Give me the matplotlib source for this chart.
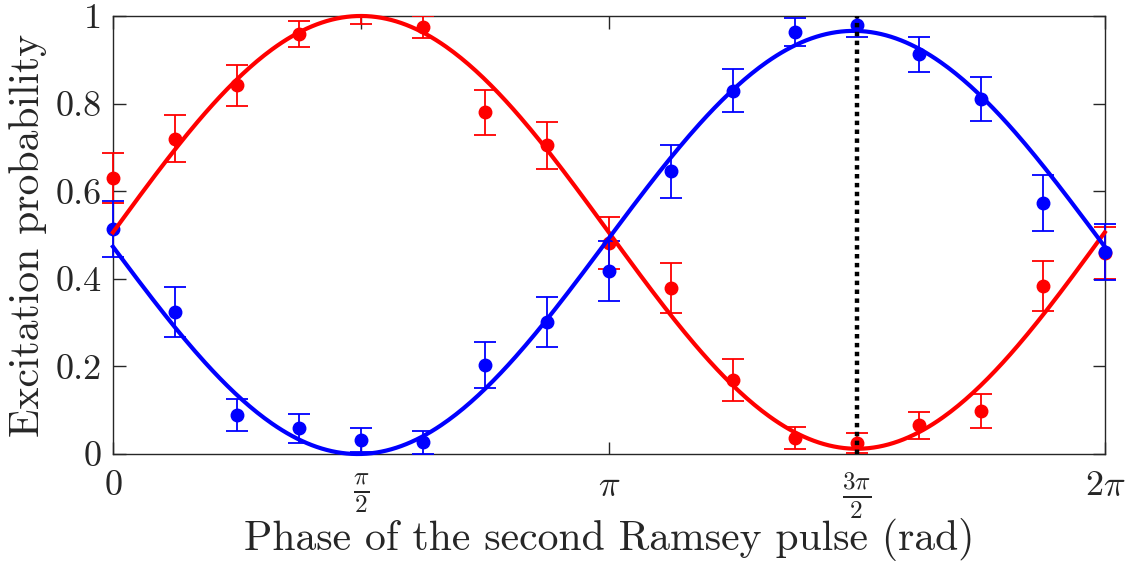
import numpy as np
import matplotlib
matplotlib.use("Agg")
import matplotlib.pyplot as plt
from matplotlib.patches import Rectangle

# ---- data (phase in units of pi/8) ----
phase_steps = list(range(17))            # k, phase = k*pi/8
red_vals = [0.63, 0.72, 0.842, 0.959, 1.005, 0.975, 0.78, 0.705, 0.482,
            0.379, 0.169, 0.037, 0.025, 0.066, 0.098, 0.384, 0.459]
red_err = [0.057, 0.054, 0.047, 0.03, 0.023, 0.026, 0.052, 0.054, 0.06,
           0.058, 0.047, 0.025, 0.023, 0.031, 0.038, 0.057, 0.06]
blue_vals = [0.514, 0.324, 0.089, 0.059, 0.032, 0.027, 0.203, 0.301, 0.418,
             0.645, 0.829, 0.963, 0.979, 0.913, 0.81, 0.573, 0.461]
blue_err = [0.064, 0.057, 0.037, 0.033, 0.028, 0.026, 0.053, 0.057, 0.068,
            0.061, 0.049, 0.032, 0.026, 0.04, 0.05, 0.063, 0.063]

# fit parameters: offset + amp*sin(phase + shift)
red_fit = dict(offset=0.506, amp=0.494, shift=0.0)
blue_fit = dict(offset=0.483, amp=-0.483, shift=0.02)

xtick_vals = [0, np.pi / 2, np.pi, 3 * np.pi / 2, 2 * np.pi]
xtick_labels = [r'$0$', r'$\frac{\pi}{2}$', r'$\pi$', r'$\frac{3\pi}{2}$', r'$2\pi$']
ytick_vals = [0, 0.2, 0.4, 0.6, 0.8, 1]
ytick_labels = ['0', '0.2', '0.4', '0.6', '0.8', '1']
marker_phase = 3 * np.pi / 2

plt.rcParams['mathtext.fontset'] = 'cm'
plt.rcParams['font.family'] = 'serif'
plt.rcParams['font.serif'] = ['cmr10', 'DejaVu Serif']
plt.rcParams['axes.unicode_minus'] = False

fig = plt.figure(figsize=(11.25, 5.61), dpi=100)
ax = fig.add_axes([0.1004, 0.1907, 0.8816, 0.7808])

x = np.array(phase_steps) * np.pi / 8
xf = np.linspace(0, 2 * np.pi, 400)

RED = '#ff0000'
BLUE = '#0000ff'

# clip region: full width beyond the axes sides, but nothing above y=1
clip_rect = Rectangle((-0.05, -0.1), 1.1, 1.1, transform=ax.transAxes,
                      visible=False)
ax.add_patch(clip_rect)


def draw_series(vals, errs, color):
    vals = np.array(vals)
    cont = ax.errorbar(x, vals, yerr=errs, fmt='none', ecolor=color, capsize=8,
                       elinewidth=1.3, capthick=1.3, zorder=3)
    for art in list(cont.lines[1]) + list(cont.lines[2]):
        art.set_clip_on(True)
        art.set_clip_path(clip_rect)
    shown = np.ma.masked_where((vals > 1) | (vals < 0), vals)
    ax.plot(x, shown, 'o', color=color, ms=9, zorder=3, clip_on=False)


draw_series(red_vals, red_err, RED)
draw_series(blue_vals, blue_err, BLUE)
ax.plot(xf, red_fit['offset'] + red_fit['amp'] * np.sin(xf + red_fit['shift']),
        color=RED, lw=3, zorder=4, clip_on=False)
ax.plot(xf, blue_fit['offset'] + blue_fit['amp'] * np.sin(xf + blue_fit['shift']),
        color=BLUE, lw=3, zorder=4, clip_on=False)
ax.plot([marker_phase, marker_phase], [0, 1], color='black', lw=3.2,
        linestyle=(0, (1, 1)), zorder=5, clip_on=False)

ax.set_xlim(0, 2 * np.pi)
ax.set_ylim(0, 1)
ax.set_xticks(xtick_vals)
ax.set_xticklabels(xtick_labels)
ax.set_yticks(ytick_vals)
ax.set_yticklabels(ytick_labels)
ax.tick_params(direction='in', length=9, width=1, colors='#262626',
               labelsize=26, top=True, right=True, labelcolor='#262626')
ax.tick_params(axis='x', pad=12)
ax.tick_params(axis='y', pad=8)
for s in ax.spines.values():
    s.set_color('#262626')
    s.set_linewidth(1)

ax.set_xlabel('Phase of the second Ramsey pulse (rad)', fontsize=30,
              color='#262626', labelpad=-2)
ax.set_ylabel('Excitation probability', fontsize=30, color='#262626', labelpad=6)

fig.savefig('out.png', dpi=100)
